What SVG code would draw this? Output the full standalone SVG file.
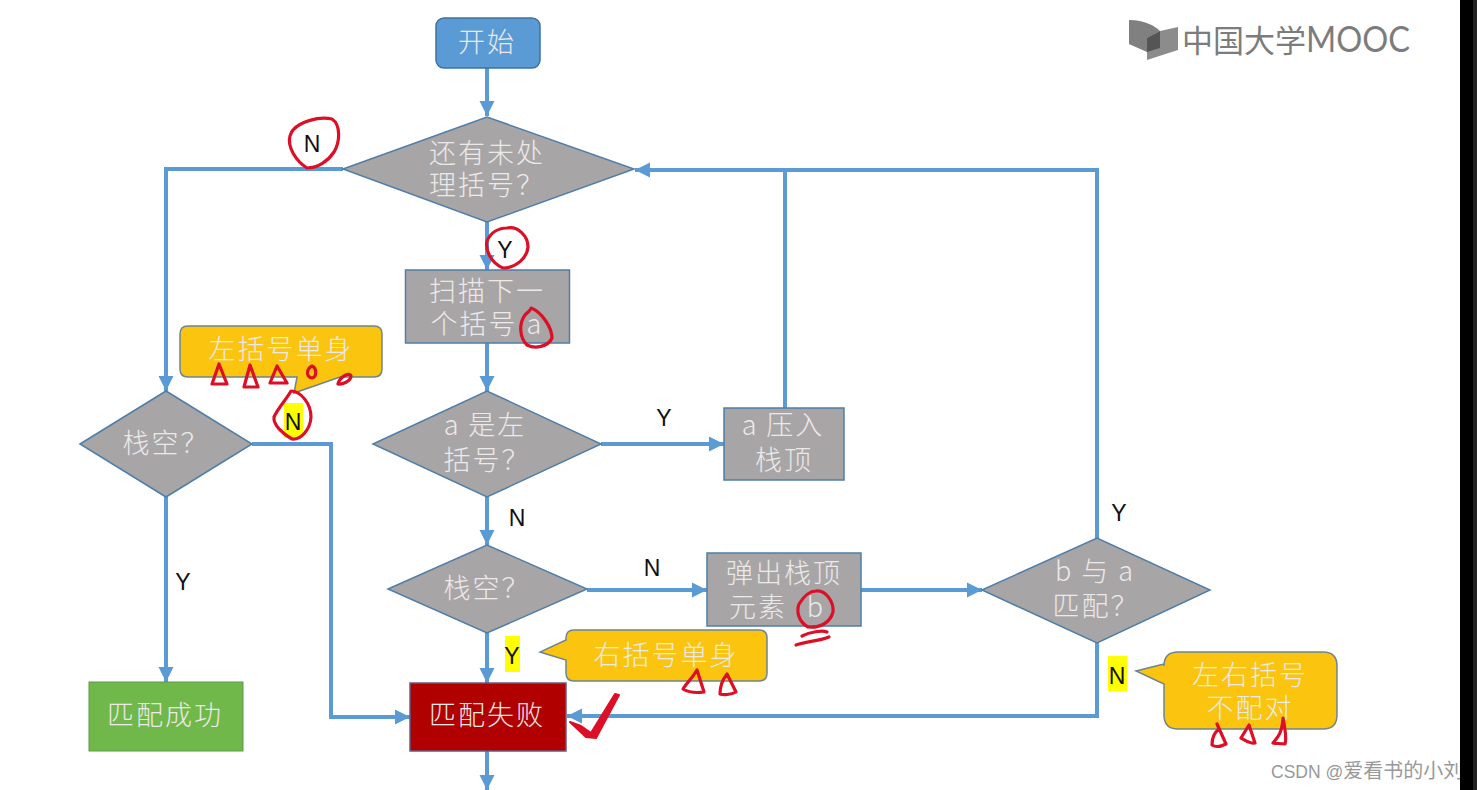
<svg xmlns="http://www.w3.org/2000/svg" width="1477" height="790" viewBox="0 0 1477 790">
<style>
.g{fill:#a8a5a7;stroke:#4f7ea8;stroke-width:1.5}
.t{font-family:"Noto Sans CJK SC","Liberation Sans",sans-serif;font-size:27px;font-weight:300;fill:#ece9e9;text-anchor:middle;letter-spacing:2px}
.c{fill:none;stroke:#5b9bd5;stroke-width:4}
.l{font-family:"Liberation Sans",sans-serif;font-size:23px;fill:#111;text-anchor:middle}
.y{fill:#ffff00}
.o{fill:#fbc40f;stroke:#6f8590;stroke-width:1.5}
.r{fill:none;stroke:#dc0f26;stroke-width:3.2;stroke-linecap:round;stroke-linejoin:round}
</style>
<defs>
<marker id="a" markerUnits="userSpaceOnUse" markerWidth="18" markerHeight="18" refX="16" refY="9" orient="auto"><path d="M1 1.500L16 9L1 16.500Z" fill="#5b9bd5"/></marker>
</defs>
<rect width="1477" height="790" fill="#fff"/>
<g id="connectors">
<path class="c" d="M487 68V116" marker-end="url(#a)"/>
<path class="c" d="M487 222V270" marker-end="url(#a)"/>
<path class="c" d="M487 343V391" marker-end="url(#a)"/>
<path class="c" d="M601 444H724" marker-end="url(#a)"/>
<path class="c" d="M785 408V170"/>
<path class="c" d="M1097 538V170H635" marker-end="url(#a)"/>
<path class="c" d="M487 497V545" marker-end="url(#a)"/>
<path class="c" d="M587 590H707" marker-end="url(#a)"/>
<path class="c" d="M861 590H982" marker-end="url(#a)"/>
<path class="c" d="M1097 643V716H567" marker-end="url(#a)"/>
<path class="c" d="M487 633V683" marker-end="url(#a)"/>
<path class="c" d="M343 169H166V391" marker-end="url(#a)"/>
<path class="c" d="M166 497V682" marker-end="url(#a)"/>
<path class="c" d="M252 444H331V717H410" marker-end="url(#a)"/>
<path class="c" d="M487 751V790" marker-end="url(#a)"/>
</g>
<g id="start"><rect x="436" y="18" width="104" height="50" rx="8" fill="#5b9bd5" stroke="#41719c" stroke-width="1.5"/><text class="t" x="487" y="52">开始</text></g>
<g id="d-remaining"><polygon class="g" points="343,169 487,117 634,169 487,222"/><text class="t" x="487" y="163">还有未处</text><text class="t" x="487" y="195">理括号？</text></g>
<g id="scan"><rect class="g" x="405.500" y="270" width="164" height="73"/><text class="t" x="487" y="301">扫描下一</text><text class="t" x="474" y="334">个括号</text><text class="t" x="535" y="334">a</text></g>
<g id="d-left"><polygon class="g" points="373,444 487,391 601,444 487,497"/><text class="t" x="485" y="435">a 是左</text><text class="t" x="487" y="470">括号？</text></g>
<g id="push"><rect class="g" x="724" y="408" width="120" height="72"/><text class="t" x="783" y="435">a 压入</text><text class="t" x="784" y="470">栈顶</text></g>
<g id="d-empty"><polygon class="g" points="388,589 487,545 587,589 487,633"/><text class="t" x="487" y="598">栈空？</text></g>
<g id="pop"><rect class="g" x="707" y="553" width="154" height="73"/><text class="t" x="784" y="583">弹出栈顶</text><text class="t" x="758" y="617">元素</text><text class="t" x="816" y="617">b</text></g>
<g id="d-match"><polygon class="g" points="982,590 1097,538 1210,590 1097,643"/><text class="t" x="1095" y="581">b 与 a</text><text class="t" x="1096" y="616">匹配？</text></g>
<g id="d-stack"><polygon class="g" points="80,444 166,391 252,444 166,497"/><text class="t" x="166" y="453">栈空？</text></g>
<g id="success"><rect x="89" y="682" width="154" height="69" fill="#70b84a" stroke="#5f9a46" stroke-width="1"/><text class="t" x="165" y="725">匹配成功</text></g>
<g id="fail"><rect x="410" y="683" width="156" height="68" fill="#b00000" stroke="#6a5a80" stroke-width="1.500"/><text class="t" x="487" y="725">匹配失败</text></g>
<g id="callout-left"><path class="o" d="M188 326H374Q382 326 382 334V369Q382 377 374 377H340L294 393L297 377H188Q180 377 180 369V334Q180 326 188 326Z"/><text class="t" x="281" y="359">左括号单身</text></g>
<g id="callout-right"><path class="o" d="M574 630H759Q767 630 767 638V673Q767 681 759 681H574Q566 681 566 673V660L540 652L566 640V638Q566 630 574 630Z"/><text class="t" x="666" y="665">右括号单身</text></g>
<g id="callout-pair"><path class="o" d="M1178 652H1323Q1337 652 1337 666V715Q1337 729 1323 729H1178Q1164 729 1164 715V684L1136 671L1164 664V666Q1164 652 1178 652Z"/><text class="t" x="1250" y="685">左右括号</text><text class="t" x="1250" y="718">不配对</text></g>
<g id="labels">
<text class="l" x="312" y="152">N</text>
<text class="l" x="505" y="258">Y</text>
<rect class="y" x="284" y="403" width="19" height="35"/><text class="l" x="293" y="430">N</text>
<text class="l" x="664" y="426">Y</text>
<text class="l" x="517" y="526">N</text>
<text class="l" x="652" y="576">N</text>
<text class="l" x="1119" y="521">Y</text>
<text class="l" x="183" y="590">Y</text>
<rect class="y" x="505" y="636" width="15" height="36"/><text class="l" x="512" y="664">Y</text>
<rect class="y" x="1108" y="656" width="19" height="35"/><text class="l" x="1117" y="684">N</text>
</g>
<g id="annotations">
<path class="r" d="M293 130C300 122 318 116 332 119C341 125 340 142 334 152C328 161 318 168 307 168C296 161 287 147 290 136C291 133 292 131 293 130Z"/>
<path class="r" d="M507 228C518 226 528 236 528 247C527 258 516 268 503 268C491 263 485 250 487 241C491 232 499 228 507 228Z"/>
<path class="r" d="M531 308C542 312 552 328 552 338C548 347 535 349 527 345C519 337 519 323 525 315C528 312 531 310 531 308Z"/>
<path class="r" d="M291 391C301 391 311 404 311 417C310 431 300 440 292 439C283 434 273 425 274 417C278 408 286 400 291 391Z"/>
<path class="r" d="M219 364L227 384H212ZM250 365L258 387H244ZM277 366L287 383H270ZM312 366C317 368 317 377 312 378C306 377 306 369 312 366ZM338 384C340 376 350 372 351 376C351 381 342 385 338 384Z"/>
<path class="r" d="M816 591C826 590 834 602 833 612C830 623 820 628 808 627C799 622 796 612 799 604C804 596 810 591 816 591Z"/>
<path class="r" d="M802 636C810 632 822 630 827 632M796 645C808 641 820 641 829 637"/>
<path class="r" d="M697 670L704 692C697 693 688 692 683 689C687 682 692 679 697 670ZM727 674L736 692C731 695 723 695 720 694C720 686 723 679 727 674Z"/>
<path d="M570 722L581 726L591 733L615 694L619 695L596 738L586 737Z" fill="#dc0f26" stroke="#dc0f26" stroke-width="2" stroke-linejoin="round"/>
<path class="r" d="M1217 724L1226 744C1220 747 1215 747 1212 745C1212 738 1215 732 1219 729ZM1249 725L1255 743C1250 744 1245 740 1241 738ZM1283 718C1285 728 1287 738 1285 744C1280 743 1276 744 1273 743C1277 738 1282 734 1283 718Z"/>
</g>
<g id="logo">
<path d="M1129 20C1145 20 1155 26 1160 31L1147 38V52L1129 44Z" fill="#808080"/>
<path d="M1160 31L1178 27V50L1147 60V38Z" fill="#8c8c8c"/>
<path d="M1147 38L1160 31V48L1147 52Z" fill="#555"/>
<text x="1182" y="52" font-family="'Noto Sans CJK SC',sans-serif" font-size="31" font-weight="400" fill="#7c7c7c">中国大学</text>
<text x="1306" y="52" font-family="'Lato','Liberation Sans',sans-serif" font-size="37" font-weight="400" fill="#7c7c7c" textLength="104" lengthAdjust="spacingAndGlyphs">MOOC</text>
</g>
<text x="1271" y="778" font-family="'Liberation Sans','Noto Sans CJK SC',sans-serif" font-size="17.500" fill="#999">CSDN @<tspan font-size="20">爱看书的小刘</tspan></text>
<rect x="1460" y="0" width="13" height="790" fill="#000"/>
<rect x="1473" y="0" width="4" height="790" fill="#222"/>
</svg>
